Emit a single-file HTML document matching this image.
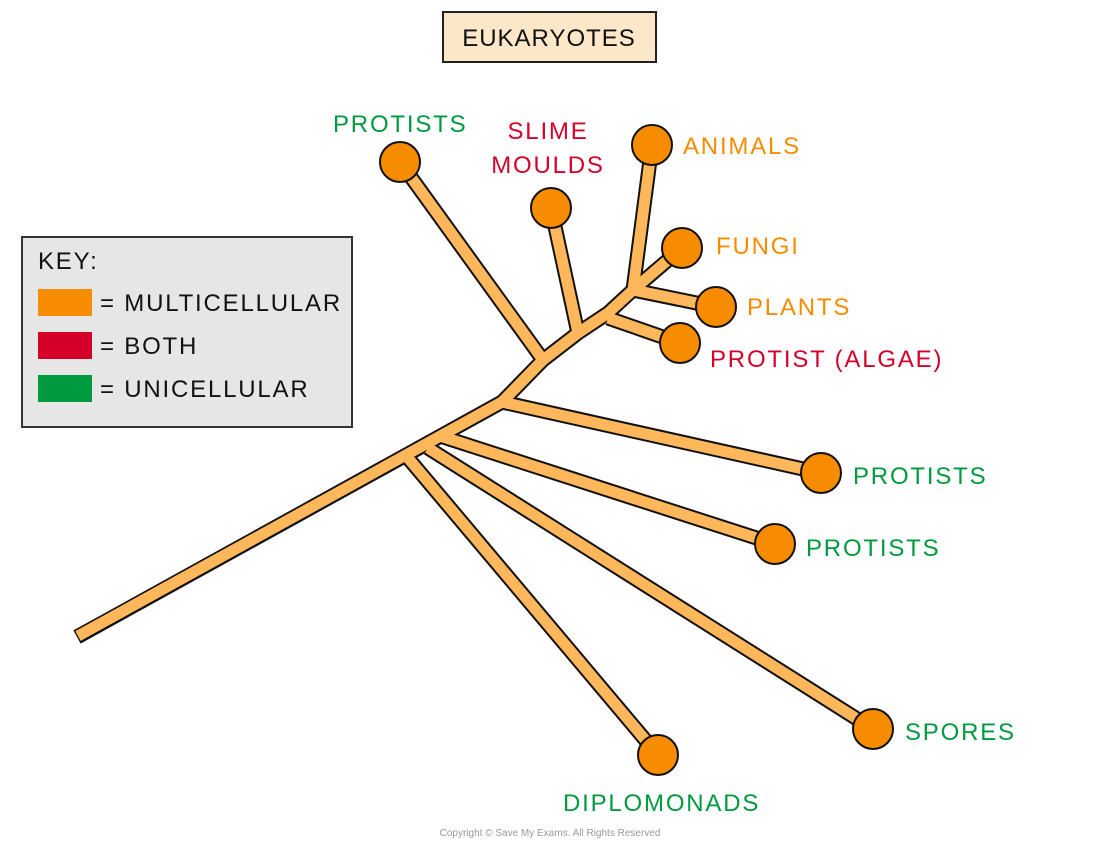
<!DOCTYPE html>
<html><head><meta charset="utf-8"><style>
html,body{margin:0;padding:0;background:#fff;}
svg{display:block;}
text{font-family:"Liberation Sans","DejaVu Sans",sans-serif;font-size:24px;letter-spacing:1.8px;}
</style></head><body>
<svg width="1100" height="844" viewBox="0 0 1100 844" xmlns="http://www.w3.org/2000/svg">
<rect x="443" y="12" width="213" height="50" fill="#fde7c9" stroke="#222" stroke-width="2"/>
<text x="549" y="46" text-anchor="middle" fill="#111" style="letter-spacing:1px">EUKARYOTES</text>

<rect x="22" y="237" width="330" height="190" fill="#e6e6e6" stroke="#333" stroke-width="2"/>
<text x="38" y="269" fill="#111">KEY:</text>
<rect x="38" y="289" width="54" height="27" fill="#f78c00"/>
<text x="100" y="311" fill="#111">= MULTICELLULAR</text>
<rect x="38" y="332" width="54" height="27" fill="#d4002a"/>
<text x="100" y="354" fill="#111">= BOTH</text>
<rect x="38" y="375" width="54" height="27" fill="#009a3e"/>
<text x="100" y="397" fill="#111">= UNICELLULAR</text>

<g fill="none" stroke-linejoin="round">
<g stroke="#111" stroke-width="15">
<path d="M77,637 L502,402 L543,360 L578,333 L608,313 L633,290"/>
<path d="M633,290 L652,145"/>
<path d="M633,290 L682,248"/>
<path d="M633,290 L716,307"/>
<path d="M608,318 L680,343"/>
<path d="M578,333 L551,208"/>
<path d="M543,360 L400,162"/>
<path d="M502,402 L821,473"/>
<path d="M440,436 L775,544"/>
<path d="M428,448 L873,729"/>
<path d="M408,458 L658,755"/>
</g>
<g stroke="#ffb75c" stroke-width="11">
<path d="M78,636 L502,402 L543,360 L578,333 L608,313 L633,290"/>
<path d="M633,290 L652,145"/>
<path d="M633,290 L682,248"/>
<path d="M633,290 L716,307"/>
<path d="M608,318 L680,343"/>
<path d="M578,333 L551,208"/>
<path d="M543,360 L400,162"/>
<path d="M502,402 L821,473"/>
<path d="M440,436 L775,544"/>
<path d="M428,448 L873,729"/>
<path d="M408,458 L658,755"/>
</g>
</g>
<g fill="#f78c00" stroke="#111" stroke-width="2">
<circle cx="400" cy="162" r="20"/>
<circle cx="551" cy="208" r="20"/>
<circle cx="652" cy="145" r="20"/>
<circle cx="682" cy="248" r="20"/>
<circle cx="716" cy="307" r="20"/>
<circle cx="680" cy="343" r="20"/>
<circle cx="821" cy="473" r="20"/>
<circle cx="775" cy="544" r="20"/>
<circle cx="873" cy="729" r="20"/>
<circle cx="658" cy="755" r="20"/>
</g>

<text x="333" y="132" fill="#009a3e">PROTISTS</text>
<text x="548" y="139" fill="#d4002a" text-anchor="middle">SLIME</text>
<text x="548" y="173" fill="#d4002a" text-anchor="middle">MOULDS</text>
<text x="683" y="154" fill="#f78c00">ANIMALS</text>
<text x="716" y="254" fill="#f78c00">FUNGI</text>
<text x="747" y="315" fill="#f78c00">PLANTS</text>
<text x="710" y="367" fill="#d4002a">PROTIST (ALGAE)</text>
<text x="853" y="484" fill="#009a3e">PROTISTS</text>
<text x="806" y="556" fill="#009a3e">PROTISTS</text>
<text x="905" y="740" fill="#009a3e">SPORES</text>
<text x="563" y="811" fill="#009a3e">DIPLOMONADS</text>
<text x="550" y="836" text-anchor="middle" fill="#999" style="font-size:10px;letter-spacing:0">Copyright © Save My Exams. All Rights Reserved</text>
</svg>
</body></html>
